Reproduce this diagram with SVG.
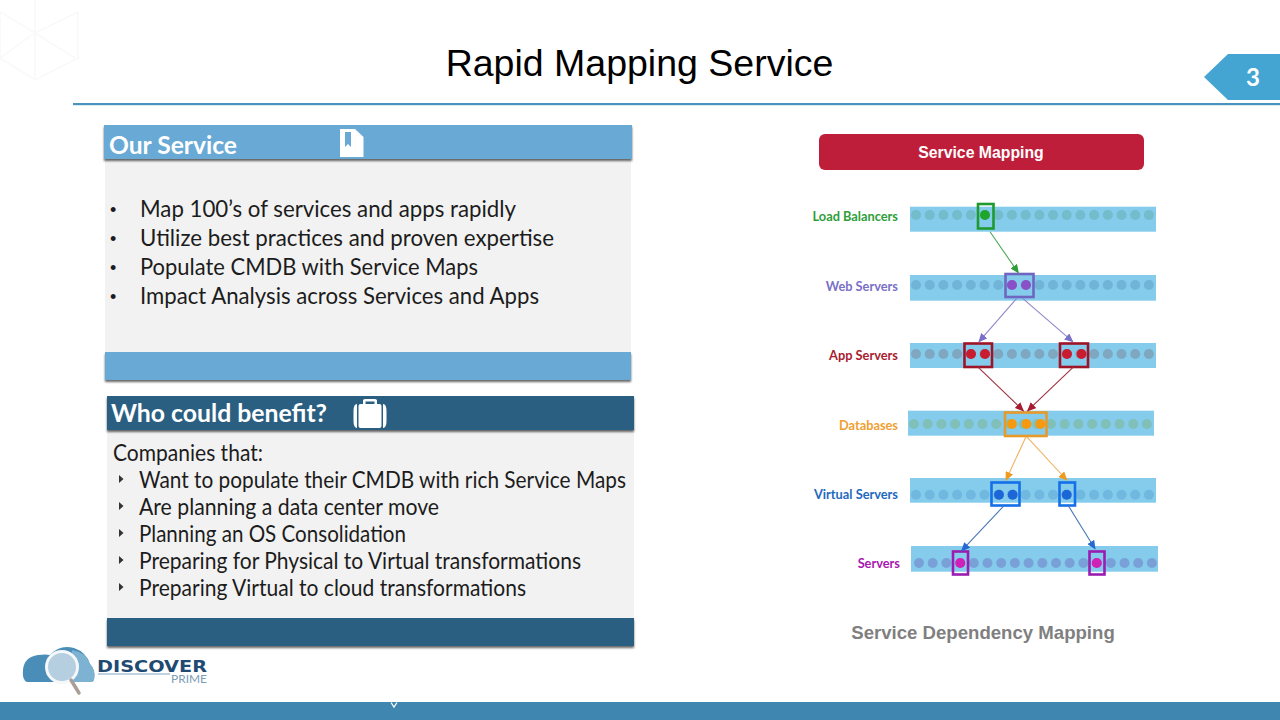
<svg xmlns="http://www.w3.org/2000/svg" xmlns:xlink="http://www.w3.org/1999/xlink" width="1280" height="720" viewBox="0 0 1280 720">
<style>
.body{font-family:Lato,"Open Sans",sans-serif;font-size:22.5px;fill:#1c1c1c}
.bul{font-family:"Liberation Sans",sans-serif;font-size:18px;fill:#1c1c1c}
.head{font-family:Lato,"Open Sans",sans-serif;font-size:25px;font-weight:700;fill:#fff}
.arial{font-family:"Liberation Sans",Arial,sans-serif}
.tier{font-family:Lato,"Open Sans",sans-serif;font-size:12.800px;font-weight:700;text-anchor:end}
.band{fill:#84cbec}
.box{fill:none;stroke-width:2.6}
.conn{fill:none;stroke-width:1.1}
</style>
<defs>
<filter id="sh" x="-3%" y="-10%" width="106%" height="130%"><feDropShadow dx="0" dy="2" stdDeviation="1.300" flood-color="#000" flood-opacity=".6"/></filter>
<circle id="d" r="5"/>
<g id="row"><use xlink:href="#d" x="0"/><use xlink:href="#d" x="13.7"/><use xlink:href="#d" x="27.4"/><use xlink:href="#d" x="41.1"/><use xlink:href="#d" x="54.8"/><use xlink:href="#d" x="68.5"/><use xlink:href="#d" x="82.2"/><use xlink:href="#d" x="95.9"/><use xlink:href="#d" x="109.6"/><use xlink:href="#d" x="123.3"/><use xlink:href="#d" x="137"/><use xlink:href="#d" x="150.7"/><use xlink:href="#d" x="164.4"/><use xlink:href="#d" x="178.1"/><use xlink:href="#d" x="191.8"/><use xlink:href="#d" x="205.5"/><use xlink:href="#d" x="219.2"/><use xlink:href="#d" x="232.9"/></g>
<marker id="aG" markerWidth="9" markerHeight="8" refX="8" refY="4" orient="auto" markerUnits="userSpaceOnUse"><path d="M0 0L9 4L0 8Z" fill="#2f9e3a"/></marker>
<marker id="aP" markerWidth="9" markerHeight="8" refX="8" refY="4" orient="auto" markerUnits="userSpaceOnUse"><path d="M0 0L9 4L0 8Z" fill="#7a70c8"/></marker>
<marker id="aR" markerWidth="9" markerHeight="8" refX="8" refY="4" orient="auto" markerUnits="userSpaceOnUse"><path d="M0 0L9 4L0 8Z" fill="#a81c30"/></marker>
<marker id="aO" markerWidth="9" markerHeight="8" refX="8" refY="4" orient="auto" markerUnits="userSpaceOnUse"><path d="M0 0L9 4L0 8Z" fill="#f09a20"/></marker>
<marker id="aB" markerWidth="9" markerHeight="8" refX="8" refY="4" orient="auto" markerUnits="userSpaceOnUse"><path d="M0 0L9 4L0 8Z" fill="#2468d0"/></marker>
</defs>
<rect width="1280" height="720" fill="#fff"/>

<g id="watermark" fill="none" stroke="#f9f9f9" stroke-width="1.500">
<path d="M35 0V80M0 12L35 33L78 12M0 58L35 33L75 58M0 12V58L35 80L78 58V12"/>
</g>

<g id="header">
<text class="arial" x="639.500" y="76" font-size="37.500" text-anchor="middle" fill="#000">Rapid Mapping Service</text>
<rect x="73" y="103" width="1207" height="2.200" fill="#4a93bf"/>
<path d="M1204 77L1228 54H1280V100H1228Z" fill="#45a5d2"/>
<text x="1253" y="86" font-family="Lato,'Open Sans',sans-serif" font-size="24" font-weight="700" text-anchor="middle" fill="#fff">3</text>
</g>

<g id="our-service">
<rect x="105" y="159" width="526" height="193" fill="#f2f2f2"/>
<rect x="105" y="352" width="526" height="28" fill="#69a9d5" filter="url(#sh)"/>
<rect x="104" y="125" width="528" height="34" fill="#69a9d5" filter="url(#sh)"/>
<text class="head" x="109" y="154" textLength="128" lengthAdjust="spacingAndGlyphs">Our Service</text>
<path d="M340 129H355L363.500 137V157H340Z" fill="#fff"/>
<path d="M345 132H351V147L348 144L345 147Z" fill="#69a9d5"/>
<text class="bul" x="110" y="216">•</text><text class="body" x="140" y="217" textLength="376" lengthAdjust="spacingAndGlyphs">Map 100’s of services and apps rapidly</text>
<text class="bul" x="110" y="245">•</text><text class="body" x="140" y="246" textLength="414" lengthAdjust="spacingAndGlyphs">Utilize best practices and proven expertise</text>
<text class="bul" x="110" y="274">•</text><text class="body" x="140" y="275" textLength="338" lengthAdjust="spacingAndGlyphs">Populate CMDB with Service Maps</text>
<text class="bul" x="110" y="303">•</text><text class="body" x="140" y="304" textLength="399" lengthAdjust="spacingAndGlyphs">Impact Analysis across Services and Apps</text>
</g>

<g id="who-could-benefit">
<rect x="107" y="430" width="527" height="188" fill="#f2f2f2"/>
<rect x="107" y="618" width="527" height="28" fill="#2a5f82" filter="url(#sh)"/>
<rect x="107" y="396" width="527" height="34" fill="#2a5f82" filter="url(#sh)"/>
<text class="head" x="111" y="422" textLength="216" lengthAdjust="spacingAndGlyphs">Who could benefit?</text>
<path d="M363 404V400.500Q363 399 365 399H375Q377 399 377 400.500V404H374.500V401.500H365.500V404Z" fill="#fff"/>
<rect x="358.500" y="404" width="23" height="24" rx="2" fill="#fff"/>
<path d="M353.500 411Q353.500 404 357 404V428Q353.500 428 353.500 421ZM386.500 411Q386.500 404 383 404V428Q386.500 428 386.500 421Z" fill="#fff"/>
<g class="body">
<text x="113" y="461" textLength="150" lengthAdjust="spacingAndGlyphs">Companies that:</text>
<text x="139" y="488" textLength="487" lengthAdjust="spacingAndGlyphs">Want to populate their CMDB with rich Service Maps</text>
<text x="139" y="515" textLength="300" lengthAdjust="spacingAndGlyphs">Are planning a data center move</text>
<text x="139" y="542" textLength="267" lengthAdjust="spacingAndGlyphs">Planning an OS Consolidation</text>
<text x="139" y="569" textLength="442" lengthAdjust="spacingAndGlyphs">Preparing for Physical to Virtual transformations</text>
<text x="139" y="596" textLength="387" lengthAdjust="spacingAndGlyphs">Preparing Virtual to cloud transformations</text>
</g>
<path d="M119 475L123.500 479L119 483ZM119 502L123.500 506L119 510ZM119 529L123.500 533L119 537ZM119 556L123.500 560L119 564ZM119 583L123.500 587L119 591Z" fill="#333"/>
</g>

<g id="logo">
<path d="M27 682Q22 680 23 670Q24 657 38 655Q46 654 50 655Q60 644 74 648Q86 652 90 664Q96 670 94 680L92 682Z" fill="#4a8db8"/>
<path d="M72 650Q86 652 90 664Q96 670 94 680L92 682H70Z" fill="#7db2d2"/>
<circle cx="62" cy="667" r="15.500" fill="#b5cfe0" stroke="#f4f8fb" stroke-width="3"/>
<path d="M71 680L79 693" stroke="#a89f98" stroke-width="3.500" stroke-linecap="round"/>
<text x="97" y="672" font-family="'DejaVu Sans',sans-serif" font-size="15" font-weight="700" fill="#1f4a72" textLength="110" lengthAdjust="spacingAndGlyphs">DISCOVER</text>
<rect x="98" y="673.500" width="72" height="1" fill="#7fa6c2"/>
<text x="171" y="683" font-family="Lato,sans-serif" font-size="10.500" fill="#7d9db5" textLength="36" lengthAdjust="spacingAndGlyphs">PRIME</text>
</g>

<g id="footer">
<rect y="702" width="1280" height="18" fill="#3f87b1"/>
<path d="M391 702.500L394 707L397 702.500" fill="none" stroke="#fff" stroke-width="1.300"/>
</g>

<g id="service-mapping">
<rect x="819" y="134" width="325" height="36" rx="6" fill="#bf1e3a"/>
<text class="arial" x="981" y="158" font-size="15.800" font-weight="700" text-anchor="middle" fill="#fff">Service Mapping</text>
</g>

<g id="load-balancers">
<text class="tier" x="898" y="221" fill="#2f9e3a">Load Balancers</text>
<rect class="band" x="910" y="206.700" width="246" height="25"/>
<use xlink:href="#row" x="916" y="215" fill="#72bccb"/>
<circle cx="985" cy="215" r="5" fill="#1fa52c"/>
<rect class="box" x="978" y="204" width="15.500" height="24.500" stroke="#1e9a2e"/>
</g>
<g id="web-servers">
<text class="tier" x="898" y="291" fill="#7a70c8">Web Servers</text>
<rect class="band" x="910" y="275" width="246" height="25.700"/>
<use xlink:href="#row" x="916" y="285" fill="#70b5d8"/>
<circle cx="1012" cy="285" r="5" fill="#8a50c8"/><circle cx="1026" cy="285" r="5" fill="#8a50c8"/>
<rect class="box" x="1005.500" y="274" width="28" height="23" stroke="#6e66c0"/>
</g>
<g id="app-servers">
<text class="tier" x="898" y="360" fill="#a81c30">App Servers</text>
<rect class="band" x="910" y="343" width="246" height="25"/>
<use xlink:href="#row" x="916" y="354" fill="#7fa8c0"/>
<circle cx="971" cy="354" r="5" fill="#c81c30"/><circle cx="985" cy="354" r="5" fill="#c81c30"/><circle cx="1067" cy="354" r="5" fill="#c81c30"/><circle cx="1081.500" cy="354" r="5" fill="#c81c30"/>
<rect class="box" x="964.500" y="343.500" width="27.500" height="23.500" stroke="#9e1426"/>
<rect class="box" x="1060" y="343.500" width="28" height="23.500" stroke="#9e1426"/>
</g>
<g id="databases">
<text class="tier" x="898" y="430" fill="#f0a030">Databases</text>
<rect class="band" x="908" y="410.700" width="246" height="25"/>
<use xlink:href="#row" x="914" y="424" fill="#80c0b8"/>
<circle cx="1012" cy="424" r="5" fill="#f59a10"/><circle cx="1026.500" cy="424" r="5" fill="#f59a10"/><circle cx="1040.500" cy="424" r="5" fill="#f59a10"/>
<rect class="box" x="1005" y="412.500" width="41.500" height="23.500" stroke="#e89a28"/>
</g>
<g id="virtual-servers">
<text class="tier" x="898" y="499" fill="#2468c0">Virtual Servers</text>
<rect class="band" x="910" y="478" width="246" height="24.700"/>
<use xlink:href="#row" x="916" y="494.700" fill="#70b8e0"/>
<circle cx="999" cy="494.700" r="5" fill="#1c66d8"/><circle cx="1012.700" cy="494.700" r="5" fill="#1c66d8"/><circle cx="1066.700" cy="494.700" r="5" fill="#1c66d8"/>
<rect class="box" x="991.500" y="482.500" width="28" height="23" stroke="#1470e8"/>
<rect class="box" x="1059.500" y="482.500" width="15.500" height="23" stroke="#1470e8"/>
</g>
<g id="servers">
<text class="tier" x="900" y="568" fill="#a818b0">Servers</text>
<rect class="band" x="911" y="546" width="247" height="25.700"/>
<use xlink:href="#row" x="919" y="563" fill="#7aa0d8"/>
<circle cx="960.300" cy="563" r="5" fill="#d020b8"/><circle cx="1096.700" cy="563" r="5" fill="#d020b8"/>
<rect class="box" x="953" y="551.500" width="15" height="23" stroke="#9a1cb0"/>
<rect class="box" x="1089.500" y="551.500" width="15" height="23" stroke="#9a1cb0"/>
</g>

<g id="connectors">
<path class="conn" stroke="#4aa858" marker-end="url(#aG)" d="M990 231.700L1018.300 272.700"/>
<path class="conn" stroke="#9088c8" marker-end="url(#aP)" d="M1016.700 298.300L979 341.700"/>
<path class="conn" stroke="#9088c8" marker-end="url(#aP)" d="M1022.700 298.300L1072.700 341.700"/>
<path class="conn" stroke="#a03040" marker-end="url(#aR)" d="M978.300 367.300L1023.300 410.700"/>
<path class="conn" stroke="#a03040" marker-end="url(#aR)" d="M1073 367.300L1027.700 410.700"/>
<path class="conn" stroke="#f0b060" marker-end="url(#aO)" d="M1026 436.700L1006 480"/>
<path class="conn" stroke="#f0b060" marker-end="url(#aO)" d="M1026.700 436.700L1066.700 480"/>
<path class="conn" stroke="#4878b8" marker-end="url(#aB)" d="M1004 505.700L961.700 550.700"/>
<path class="conn" stroke="#4878b8" marker-end="url(#aB)" d="M1068.300 505.700L1095 548.700"/>
</g>

<text class="arial" x="983" y="639" font-size="18.600" font-weight="700" text-anchor="middle" fill="#7f7f7f">Service Dependency Mapping</text>
</svg>
